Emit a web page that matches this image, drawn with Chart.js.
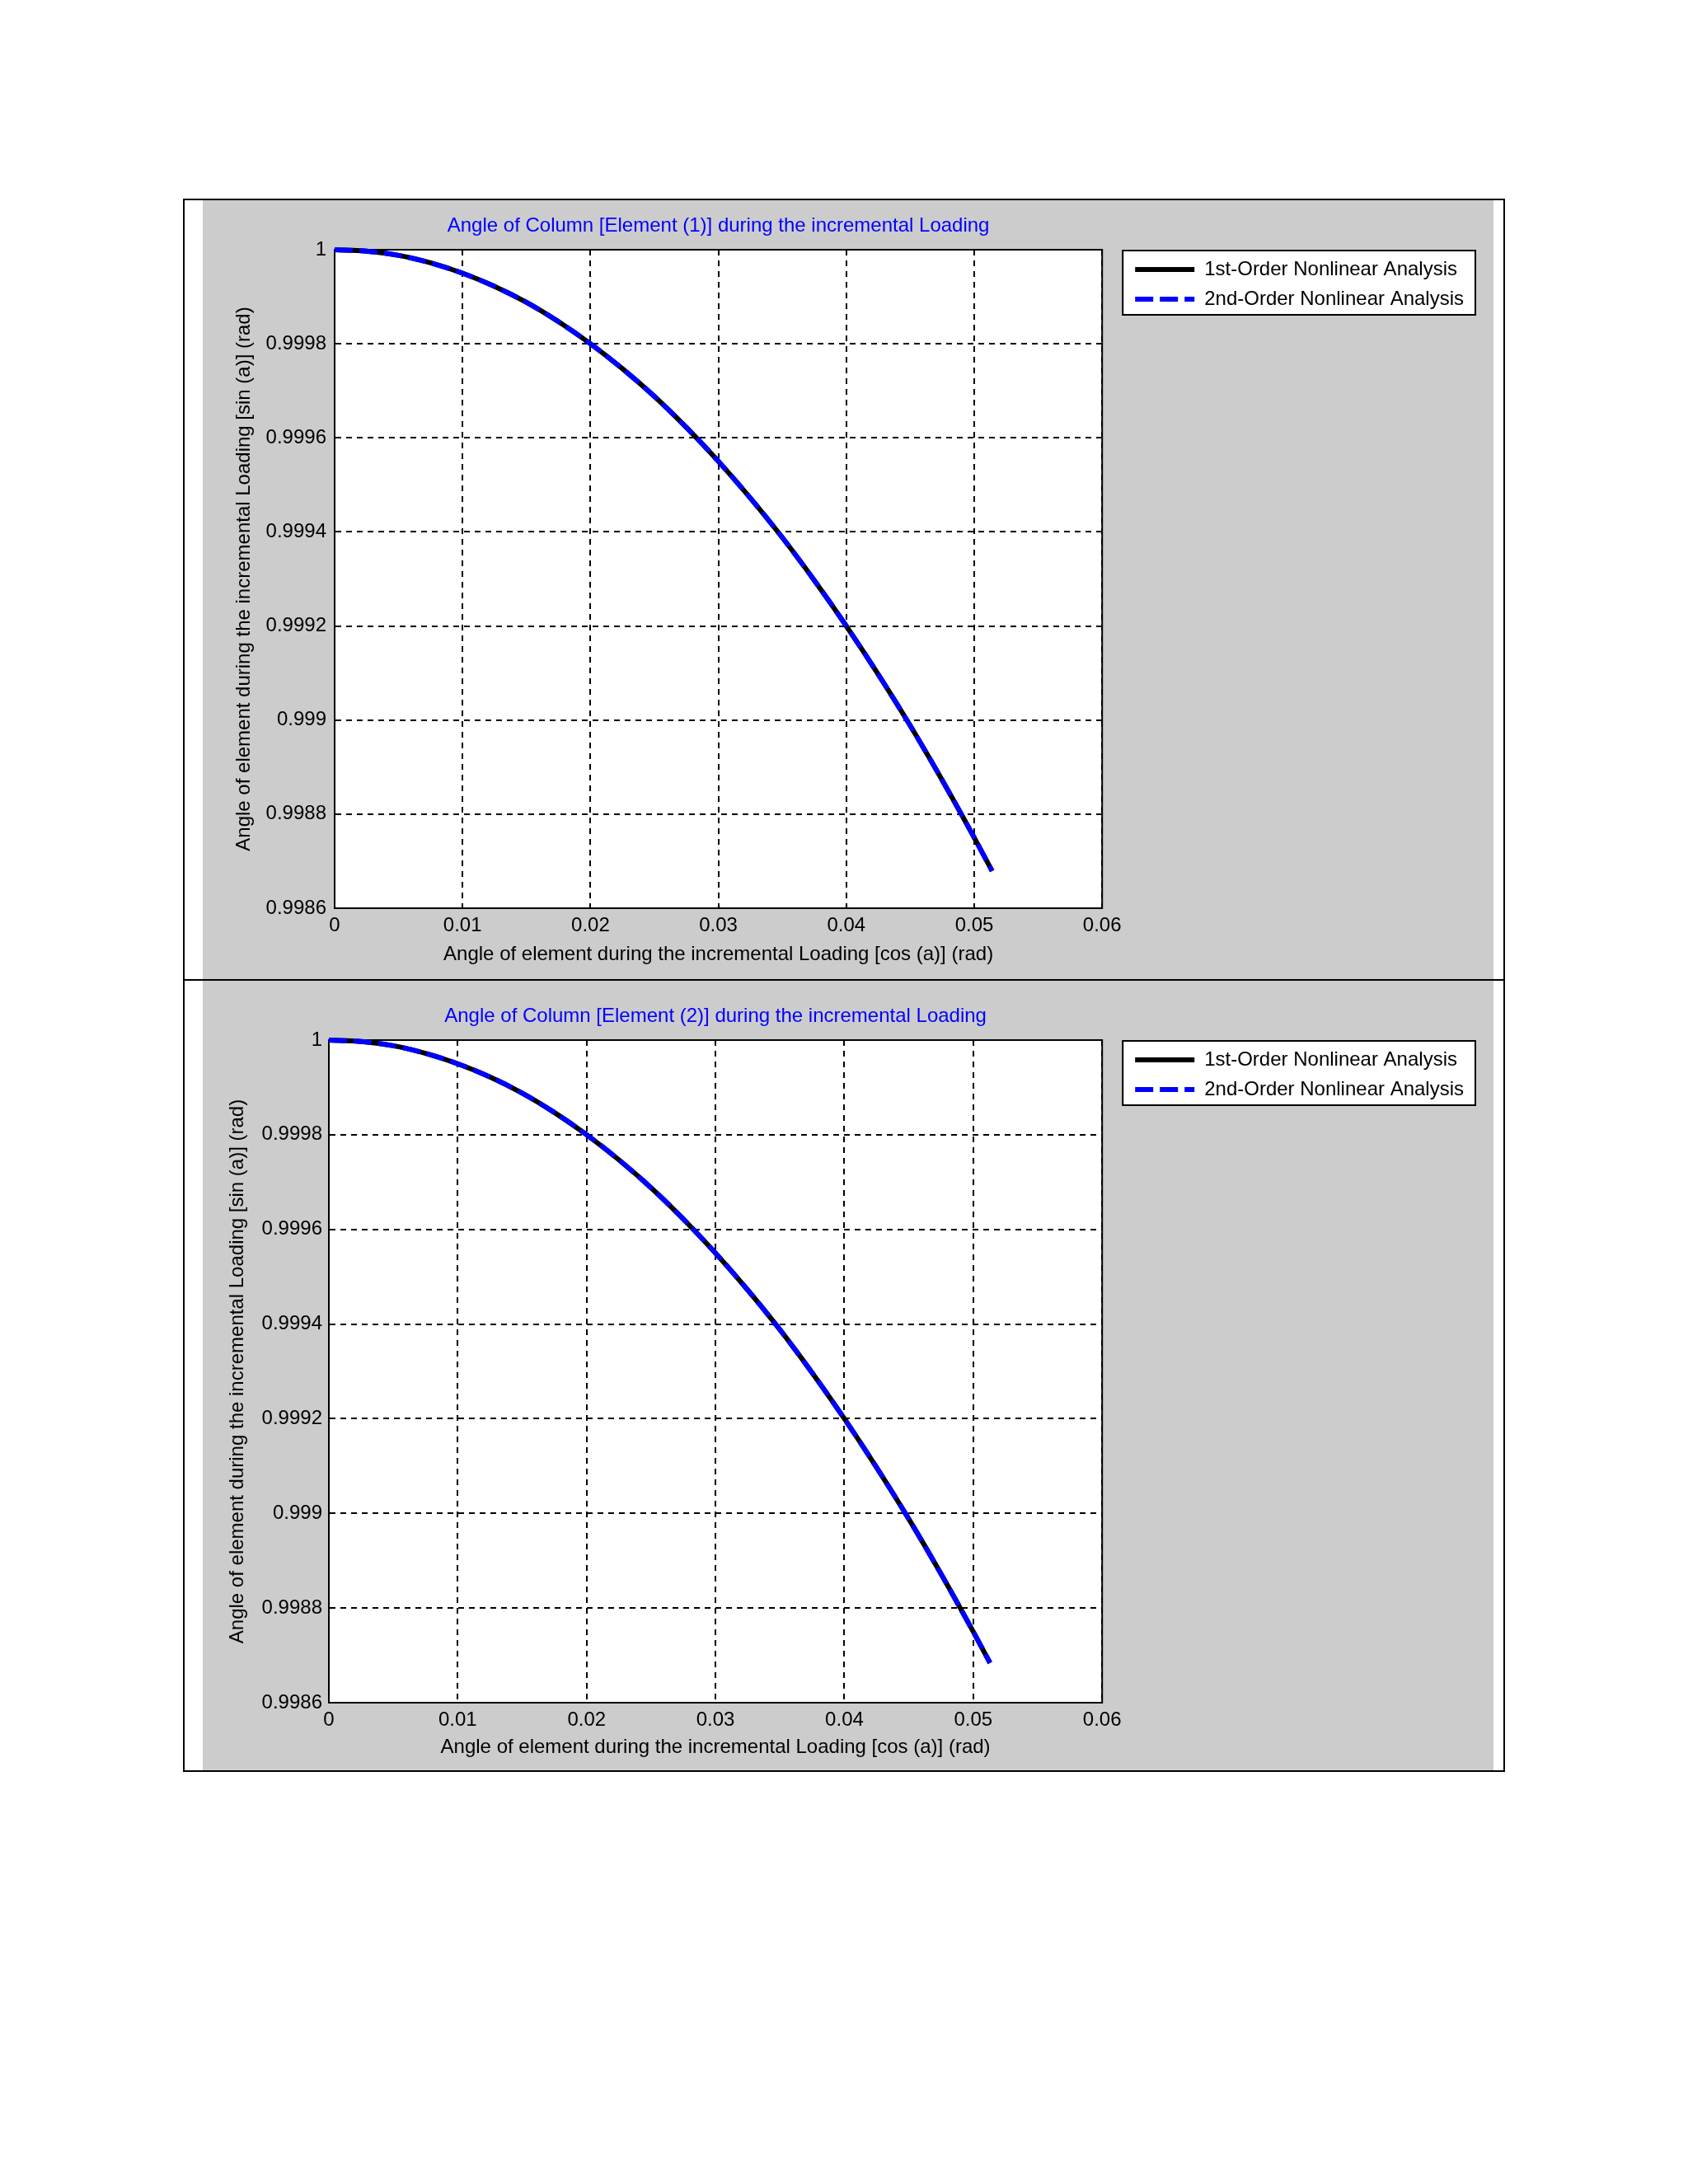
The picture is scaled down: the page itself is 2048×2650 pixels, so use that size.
<!DOCTYPE html>
<html>
<head>
<meta charset="utf-8">
<title>Angle of Column during the incremental Loading</title>
<script src="https://cdn.jsdelivr.net/npm/chart.js@4.4.1/dist/chart.umd.min.js"></script>
<style>
  body { margin: 0; background: #fff; width: 2048px; height: 2650px; position: relative; }
  #frame { position: absolute; left: 222px; top: 241px; width: 1604px; height: 1909px;
           border: 2px solid #000; box-sizing: border-box; background: #fff; }
  #sep { position: absolute; left: 222px; top: 1188px; width: 1604px; height: 2px; background: #000; }
  .panel { position: absolute; left: 246px; width: 1566px; background: #cccccc; }
  canvas { display: block; }
</style>
</head>
<body>
<div id="frame"></div>
<div class="panel" style="top:243px;height:945px"><canvas id="elem1" width="1566" height="945"></canvas></div>
<div id="sep"></div>
<div class="panel" style="top:1190px;height:958px"><canvas id="elem2" width="1566" height="958"></canvas></div>
<script>
// values, element (1)
var xValues1 = [0, 0.0025, 0.005, 0.0075, 0.01, 0.0125, 0.015, 0.0175, 0.02, 0.0225, 0.025,
                0.0275, 0.03, 0.0325, 0.035, 0.0375, 0.04, 0.0425, 0.045, 0.0475, 0.05, 0.0514];
var firstOrder1 = [1.000000, 0.999997, 0.999988, 0.999972, 0.999950, 0.999922, 0.999888, 0.999847, 0.999800, 0.999747, 0.999688,
                   0.999622, 0.999550, 0.999472, 0.999388, 0.999297, 0.999200, 0.999097, 0.998988, 0.998872, 0.998750, 0.998679];
var secondOrder1 = [1.000000, 0.999997, 0.999988, 0.999972, 0.999950, 0.999922, 0.999888, 0.999847, 0.999800, 0.999747, 0.999688,
                    0.999622, 0.999550, 0.999472, 0.999388, 0.999297, 0.999200, 0.999097, 0.998988, 0.998872, 0.998750, 0.998679];

// element (2)
var xValues2 = [0, 0.0025, 0.005, 0.0075, 0.01, 0.0125, 0.015, 0.0175, 0.02, 0.0225, 0.025,
                0.0275, 0.03, 0.0325, 0.035, 0.0375, 0.04, 0.0425, 0.045, 0.0475, 0.05, 0.0513];
var firstOrder2 = [1.000000, 0.999997, 0.999988, 0.999972, 0.999950, 0.999922, 0.999888, 0.999847, 0.999800, 0.999747, 0.999688,
                   0.999622, 0.999550, 0.999472, 0.999388, 0.999297, 0.999200, 0.999097, 0.998988, 0.998872, 0.998750, 0.998684];
var secondOrder2 = [1.000000, 0.999997, 0.999988, 0.999972, 0.999950, 0.999922, 0.999888, 0.999847, 0.999800, 0.999747, 0.999688,
                    0.999622, 0.999550, 0.999472, 0.999388, 0.999297, 0.999200, 0.999097, 0.998988, 0.998872, 0.998750, 0.998684];

var seriesNames = ['1st-Order Nonlinear Analysis', '2nd-Order Nonlinear Analysis'];
var xTickValues = [0, 0.01, 0.02, 0.03, 0.04, 0.05, 0.06];
var xTickLabels = ['0', '0.01', '0.02', '0.03', '0.04', '0.05', '0.06'];
var yTickValues = [0.9986, 0.9988, 0.999, 0.9992, 0.9994, 0.9996, 0.9998, 1];
var yTickLabels = ['0.9986', '0.9988', '0.999', '0.9992', '0.9994', '0.9996', '0.9998', '1'];

var xTitle = 'Angle of element during the incremental Loading [cos (a)] (rad)';
var yTitle = 'Angle of element during the incremental Loading [sin (a)] (rad)';

Chart.defaults.font.family = "'Liberation Sans', Arial, sans-serif";
Chart.defaults.font.size = 24;
Chart.defaults.color = '#000';

// white plot box, legend box, axes frame
var panelDecor = {
  id: 'panelDecor',
  afterLayout: function (chart, args, opts) {
    var lg = chart.legend;
    if (!lg) return;
    // layout caps side boxes at a quarter of the width, so widen it by hand
    lg.left += opts.legendShift;
    lg.width = opts.legendWidth;
    lg.right = lg.left + opts.legendWidth;
  },
  beforeDraw: function (chart) {
    var ctx = chart.ctx, a = chart.chartArea;
    ctx.save();
    ctx.fillStyle = '#fff';
    ctx.fillRect(a.left, a.top, a.right - a.left, a.bottom - a.top);
    var hb = chart.legend && chart.legend.legendHitBoxes;
    if (hb && hb.length) {
      var l = hb[0].left - 15, t = hb[0].top - 11, r = 0, b = 0;
      hb.forEach(function (h) {
        r = Math.max(r, h.left + h.width);
        b = Math.max(b, h.top + h.height);
      });
      r += 14; b += 7;
      ctx.fillRect(l, t, r - l, b - t);
      ctx.lineWidth = 2;
      ctx.strokeStyle = '#000';
      ctx.strokeRect(l, t, r - l, b - t);
    }
    ctx.restore();
  },
  beforeDatasetsDraw: function (chart) {
    var ctx = chart.ctx, a = chart.chartArea;
    ctx.save();
    ctx.lineWidth = 2;
    ctx.strokeStyle = '#000';
    ctx.strokeRect(a.left, a.top, a.right - a.left, a.bottom - a.top);
    ctx.restore();
  }
};

function lineLegend(chart) {
  return chart.data.datasets.map(function (ds, i) {
    return {
      text: ds.label,
      strokeStyle: ds.borderColor,
      fillStyle: ds.borderColor,
      lineWidth: ds.borderWidth,
      lineDash: ds.borderDash || [],
      pointStyle: 'line',
      hidden: false,
      datasetIndex: i
    };
  });
}

function buildPanel(id, title, xs, ys1, ys2, box) {
  var pts1 = xs.map(function (x, i) { return { x: x, y: ys1[i] }; });
  var pts2 = xs.map(function (x, i) { return { x: x, y: ys2[i] }; });
  var pad = { left: box.padLeft, top: box.padTop, right: 53, bottom: box.padBottom };

  var config = {
    type: 'line',
    data: {
      datasets: [{
        label: seriesNames[0],
        data: pts1,
        borderColor: '#000',
        backgroundColor: '#000',
        borderWidth: 6,
        pointRadius: 0,
        cubicInterpolationMode: 'monotone',
        fill: false,
        clip: 6,
        order: 1
      }, {
        label: seriesNames[1],
        data: pts2,
        borderColor: '#0000ff',
        backgroundColor: '#0000ff',
        borderWidth: 6,
        borderDash: [22, 8],
        pointRadius: 0,
        cubicInterpolationMode: 'monotone',
        fill: false,
        clip: 6,
        order: 0
      }]
    },
    options: {
      responsive: false,
      animation: false,
      devicePixelRatio: 1,
      events: [],
      layout: { padding: pad },
      scales: {
        x: {
          type: 'linear',
          min: 0,
          max: 0.06,
          afterBuildTicks: function (s) { s.ticks = xTickValues.map(function (v) { return { value: v }; }); },
          afterFit: function (s) { s.height = box.xAxisHeight; },
          ticks: {
            padding: 7,
            maxRotation: 0,
            autoSkip: false,
            callback: function (v, i) { return xTickLabels[i]; }
          },
          grid: { color: '#000', lineWidth: 2, drawTicks: false },
          border: { display: true, color: '#000', width: 2, dash: [7, 6] },
          title: { display: true, text: xTitle, padding: { top: 0, bottom: 0 } }
        },
        y: {
          type: 'linear',
          min: 0.9986,
          max: 1,
          afterBuildTicks: function (s) { s.ticks = yTickValues.map(function (v) { return { value: v }; }); },
          afterFit: function (s) { s.width = box.yAxisWidth; },
          ticks: {
            padding: box.yTickPad,
            autoSkip: false,
            callback: function (v, i) { return yTickLabels[i]; }
          },
          grid: { color: '#000', lineWidth: 2, drawTicks: false },
          border: { display: true, color: '#000', width: 2, dash: [7, 6] },
          title: { display: true, text: yTitle, padding: { top: 0, bottom: 0 } }
        }
      },
      plugins: {
        title: {
          display: true,
          text: title,
          color: '#0000ff',
          fullSize: false,
          font: { weight: 'normal', size: 24 },
          padding: { top: 0, bottom: 14.6 }
        },
        legend: {
          position: 'right',
          align: 'start',
          fullSize: false,
          labels: {
            usePointStyle: true,
            pointStyleWidth: 72,
            padding: 12,
            color: '#000',
            font: { size: 24 },
            generateLabels: lineLegend
          }
        },
        tooltip: { enabled: false },
        panelDecor: { legendShift: 28, legendWidth: 460 }
      }
    },
    plugins: [panelDecor]
  };

  var chart = new Chart(document.getElementById(id), config);
  // pin the plot's right edge (legend width feeds back into the layout)
  for (var k = 0; k < 6; k++) {
    var d = chart.chartArea.right - box.areaRight;
    if (Math.abs(d) < 0.3) break;
    pad.right += d;
    chart.options.layout.padding = { left: pad.left, top: pad.top, right: pad.right, bottom: pad.bottom };
    chart.update();
  }
  return chart;
}

buildPanel('elem1', 'Angle of Column [Element (1)] during the incremental Loading',
  xValues1, firstOrder1, secondOrder1,
  { padLeft: 35.6, padTop: 16.6, padBottom: 15.6, yAxisWidth: 124.4, xAxisHeight: 70.4, yTickPad: 10, areaRight: 1091 });

buildPanel('elem2', 'Angle of Column [Element (2)] during the incremental Loading',
  xValues2, firstOrder2, secondOrder2,
  { padLeft: 27.6, padTop: 28.6, padBottom: 13.6, yAxisWidth: 125.4, xAxisHeight: 68.4, yTickPad: 8, areaRight: 1091 });
</script>
</body>
</html>
